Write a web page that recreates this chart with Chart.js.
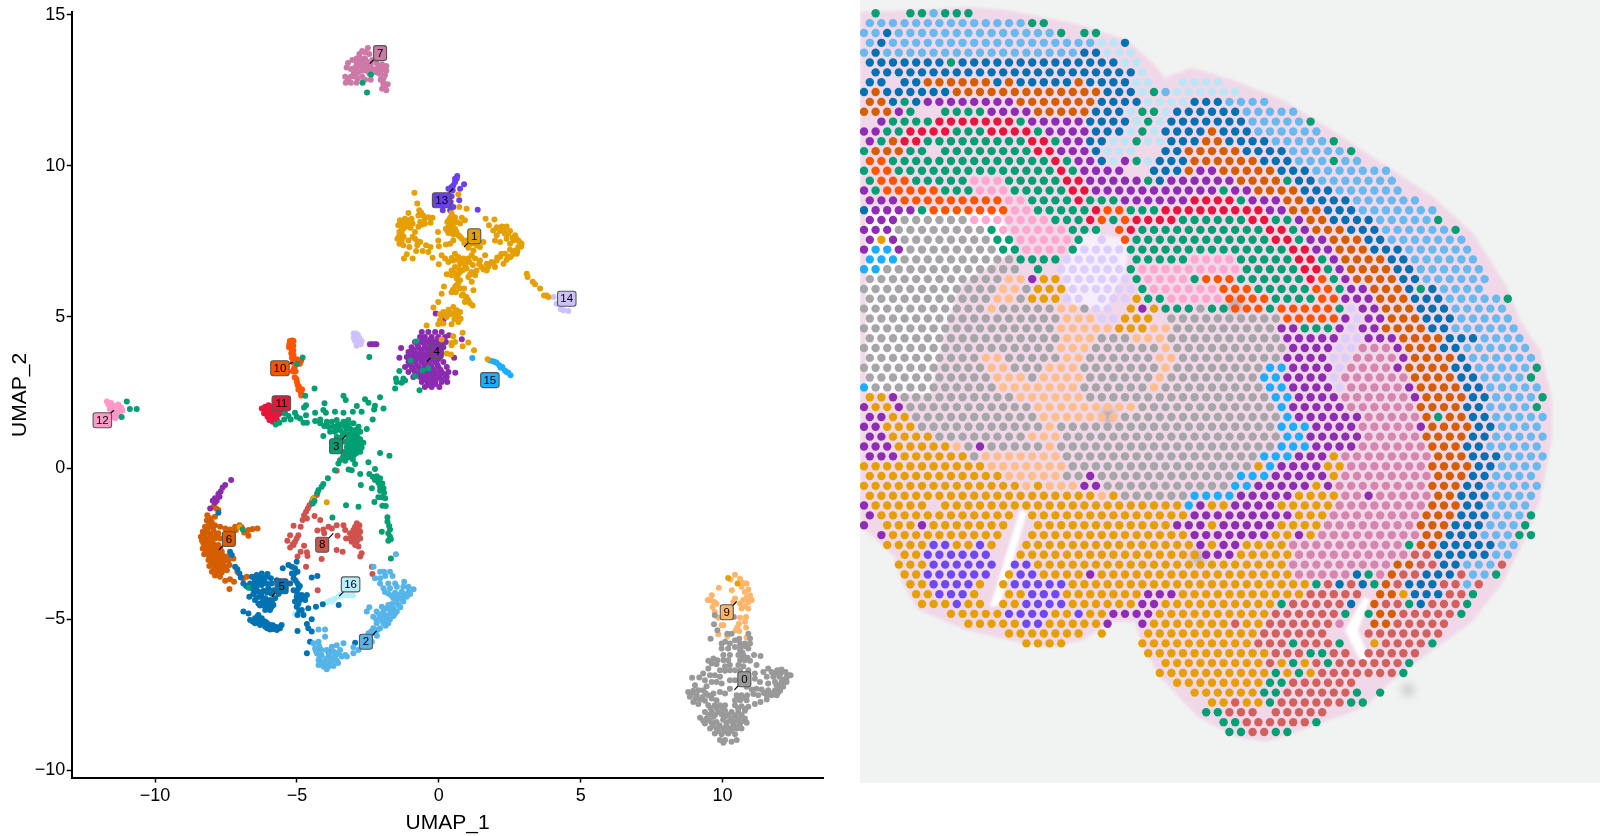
<!DOCTYPE html>
<html>
<head>
<meta charset="utf-8">
<title>UMAP and spatial clusters</title>
<script src="https://cdn.jsdelivr.net/npm/chart.js@4/dist/chart.umd.js"></script>
<style>
body { margin: 0; background: #fff; }
#umapChart { position: absolute; left: 0; top: 0; }
#spatialChart { position: absolute; left: 860px; top: 0; }
</style>
</head>
<body>
<canvas id="umapChart" width="860" height="836"></canvas>
<canvas id="spatialChart" width="740" height="783"></canvas>
<script>
const clusterColors = ['#999999','#E69F00','#56B4E9','#009E73','#8A2BB0','#0072B2','#D55E00','#CC79A7','#D0524E','#FFB56B','#FF5500','#E8153C','#FF9AC8','#6A3FF0','#CFC0FF','#1CADFF','#B4F0FF'];
const spotColors = ['#a6a5a7','#E69F00','#68B9EE','#00A074','#8E2DB4','#0072B2','#D55E00','#D585B0','#D2605C','#FFBE8C','#FF5500','#E8153C','#FFA6D0','#6E48F5','#DCCEFF','#1CADFF','#BCE6F5'];

// UMAP points, flat x,y pairs
const umap0 = [9.73,-4.87,9.7,-5.17,9.82,-5.37,9.58,-5.65,10.4,-4.93,10.17,-5.48,10.32,-5.48,10.59,-5.65,10.91,-5.48,10.97,-5.64,9.97,-5.81,10.09,-5.75,10.26,-5.81,10.44,-5.7,10.62,-5.81,10.79,-5.81,10.97,-5.81,9.97,-5.97,10.2,-5.97,10.44,-5.92,10.62,-6.03,10.91,-5.97,10.56,-6.19,10.73,-6.19,11.11,-6.19,11.34,-6.22,10.03,-6.19,10.26,-6.19,10.03,-6.36,10.2,-6.36,9.5,-6.38,9.68,-6.3,9.82,-6.36,9.62,-6.47,9.79,-6.49,10.62,-6.36,10.79,-6.36,10.97,-6.38,11.2,-6.52,10.09,-6.56,10.26,-6.52,10.56,-6.52,10.73,-6.56,9.5,-6.63,9.91,-6.69,10.09,-6.71,10.26,-6.69,10.44,-6.69,10.62,-6.71,10.91,-6.69,11.61,-6.63,11.73,-6.75,11.44,-6.75,11.14,-6.8,11.93,-6.69,12.08,-6.67,12.22,-6.75,12.4,-6.86,9.32,-6.8,9.56,-6.86,9.73,-6.86,9.91,-6.91,8.93,-6.94,9.18,-6.93,11.56,-6.91,11.79,-6.91,12.0,-6.91,12.26,-6.93,9.38,-7.02,9.62,-7.08,9.79,-7.08,9.97,-7.13,10.26,-7.02,10.44,-7.02,11.14,-6.97,11.32,-7.08,11.85,-7.08,12.08,-7.08,12.26,-7.08,9.03,-7.19,9.44,-7.22,10.26,-7.3,10.85,-7.24,11.03,-7.33,11.61,-7.13,11.97,-7.24,12.14,-7.24,11.2,-7.3,11.38,-7.33,11.61,-7.35,11.85,-7.35,12.03,-7.37,8.79,-7.41,8.97,-7.37,9.15,-7.35,9.32,-7.35,9.91,-7.41,10.09,-7.46,11.09,-7.48,11.26,-7.52,11.56,-7.52,11.73,-7.52,11.91,-7.52,8.85,-7.57,9.09,-7.52,9.5,-7.52,9.68,-7.46,10.5,-7.52,10.67,-7.52,10.87,-7.52,11.56,-7.66,11.34,-7.74,8.97,-7.74,9.21,-7.66,9.38,-7.7,9.62,-7.63,9.79,-7.68,10.44,-7.68,10.62,-7.68,10.85,-7.68,11.14,-7.81,9.15,-7.81,9.5,-7.85,9.73,-7.85,9.91,-7.85,10.09,-7.85,10.44,-7.85,10.67,-7.88,10.91,-7.9,9.38,-8.07,9.62,-8.07,9.85,-8.07,10.09,-8.03,10.32,-8.07,10.56,-8.07,10.79,-8.03,9.21,-8.26,9.44,-8.29,9.68,-8.23,10.09,-8.23,10.32,-8.29,10.56,-8.29,10.79,-8.29,9.38,-8.45,9.62,-8.43,9.79,-8.4,10.14,-8.43,10.38,-8.45,10.62,-8.45,10.85,-8.43,9.56,-8.62,9.79,-8.62,10.03,-8.62,10.26,-8.62,10.5,-8.62,10.67,-8.62,9.73,-8.78,9.97,-8.81,10.2,-8.78,10.44,-8.81,9.91,-9.0,10.09,-9.0,10.32,-9.06,10.5,-9.0,10.03,-9.09,
    9.5,-8.17,9.74,-8.16,9.97,-8.15,10.2,-8.16,10.44,-8.18,10.67,-8.17,9.32,-8.36,9.55,-8.35,10.02,-8.33,10.26,-8.36,10.48,-8.37,10.72,-8.36,9.66,-8.53,9.9,-8.52,10.14,-8.53,10.38,-8.53,10.58,-8.54,9.85,-8.7,10.09,-8.71,10.32,-8.7,9.58,-7.95,9.8,-7.96,10.0,-7.95,10.55,-7.96,10.8,-7.97,9.3,-7.58,9.4,-7.45,9.05,-7.63,8.9,-7.46,10.58,-7.6,10.77,-7.6,11.46,-7.44,11.68,-7.44,11.95,-7.44,11.9,-7.17,12.15,-7.0,11.85,-6.8,12.05,-6.8,12.3,-6.85,10.63,-5.92,10.8,-5.9,10.7,-6.1,10.65,-6.27,10.88,-6.28];
const umap1 = [-.86,9.11,-.76,8.75,-.69,8.53,-.63,8.42,-.72,8.36,-.55,8.36,-.37,8.3,-.22,8.28,-1.07,8.44,-1.19,8.25,-1.37,8.2,-1.25,8.09,-1.07,8.2,-.96,8.25,-1.43,8.03,-1.25,7.92,-1.07,8.03,-.92,8.08,-1.39,7.81,-1.31,7.78,-.66,8.14,-.49,8.08,-.29,8.12,-.72,7.98,-.84,7.81,-1.46,7.59,-1.31,7.53,-1.39,7.42,-1.25,7.37,-1.07,7.53,-.84,7.59,-.66,7.48,-.76,7.37,-.45,7.37,-.29,7.31,-1.04,7.31,-.8,7.18,-.57,7.18,-.37,7.15,-1.13,7.07,-1.23,6.93,-.92,6.93,-.22,6.96,0,6.74,0,7.34,-.03,7.81,.25,7.4,.4,7.42,.51,7.53,-.02,7.53,.45,8.44,.72,8.64,.98,8.58,.69,9.06,.4,8.28,.57,8.3,.81,8.28,.92,8.2,.3,8.14,.45,8.09,.63,8.14,.25,7.92,.4,7.92,.57,7.92,.75,8.09,.34,7.78,.51,7.73,.69,7.7,.81,7.59,.98,7.53,1.16,7.42,1.33,7.37,1.04,7.29,1.22,7.2,1.45,7.31,1.57,7.48,1.65,8.25,1.96,8.22,1.77,8.03,2.04,7.97,2.22,7.99,2.39,7.99,1.92,7.86,2.16,7.84,2.51,7.84,2.69,7.7,2.33,7.75,2.04,7.7,2.39,7.59,2.8,7.53,2.63,7.53,1.98,7.53,2.16,7.48,2.92,7.42,2.51,7.42,2.8,7.31,2.69,7.2,2.51,7.22,2.75,7.09,2.53,6.98,2.33,7.09,2.16,6.98,2.39,6.89,2.04,6.87,1.86,6.82,1.69,6.76,1.51,6.65,1.33,6.54,1.98,6.65,2.28,6.76,1.69,6.54,1.63,7.04,1.45,6.87,1.28,6.93,1.16,7.04,1.04,6.93,.1,7.04,.22,6.93,.34,6.82,.57,7.09,.69,6.98,.87,6.93,.51,6.87,.75,6.76,.92,6.71,.57,6.65,.45,6.54,.98,6.6,1.16,6.49,1.04,6.32,1.28,6.38,.75,6.49,.28,6.41,.45,6.38,.63,6.27,.75,6.21,1.16,6.16,.69,6.12,.57,5.99,.75,5.94,.45,5.82,.6,5.82,1.22,5.88,.89,5.94,.18,6.01,.1,5.77,.81,5.71,.98,5.66,.92,5.49,1.04,5.55,1.19,5.38,-.02,5.49,-.19,5.31,.51,5.33,.34,5.24,.63,5.22,.75,5.16,.16,5.16,.04,5.09,.45,5.09,.63,5,.77,4.94,.28,5,.69,4.83,.04,4.89,-.02,4.76,.16,4.78,.45,4.76,-.43,4.72,.1,4.25,.51,4.36,.45,4.14,.57,4.17,.45,4.06,.84,4.48,.84,4.03,1.04,4.15,1.24,3.9,.28,3.79,.43,3.76,1.72,3.6,3.1,6.43,3.13,6.32,3.31,6.16,3.39,6.08,3.57,5.94,3.71,5.71,3.8,5.71,3.86,5.66,-7.02,-1.96,10.2,-3.64,10.53,-3.82,-4.43,-1.02,-3.95,-1.13,
    -1.35,8.12,-1.15,8.12,-1.32,7.98,-1.17,7.98,-1.0,7.95,-1.4,7.68,-1.24,7.65,-1.33,7.5,-.92,7.65,-.75,7.5,-.62,8.45,-.5,8.25,-.6,8.05,.35,8.2,.5,8.2,.35,8,.5,8,.3,7.85,.45,7.84,.62,7.82,.75,7.65,.9,7.45,1.08,7.4,2.1,7.92,2.3,7.9,2.45,7.75,2.6,7.62,2.72,7.6,2.85,7.47,2.9,7.32,2.77,7.18,2.62,7.08,2.45,7.0,2.2,7.08,2.06,6.97,1.93,6.76,1.75,6.67,1.58,6.57,1.42,6.75,1.2,6.72,1.08,6.82,.95,6.82,.8,6.85,.63,6.9,.45,6.95,.7,6.6,.85,6.55,1.1,6.4,.68,6.4,.55,6.45,.62,6.05,.5,5.9,.85,5.75,.95,5.55,1.1,5.45,.4,5.15,.55,5.13,.68,5.08,.55,4.92,.1,5.05,.22,5.1];
const umap2 = [-1.51,-2.85,-2.07,-3.43,-1.93,-3.43,-1.72,-3.43,-2.3,-3.27,-2.25,-3.65,-2.07,-3.65,-1.89,-3.57,-1.63,-3.57,-2.07,-3.82,-1.78,-3.82,-1.54,-3.82,-1.22,-3.76,-1.95,-3.98,-1.72,-3.98,-1.48,-3.93,-1.25,-3.93,-1.07,-3.93,-.89,-4.01,-1.78,-4.15,-1.54,-4.13,-1.31,-4.09,-1.07,-4.09,-1.6,-4.31,-1.36,-4.28,-1.13,-4.26,-1.01,-4.17,-1.48,-4.46,-1.25,-4.42,-1.78,-4.53,-2.01,-4.59,-1.6,-4.64,-1.36,-4.61,-2.45,-4.61,-2.19,-4.75,-1.95,-4.75,-1.72,-4.81,-1.48,-4.75,-2.54,-4.75,-2.31,-4.92,-2.07,-4.97,-1.83,-4.97,-1.6,-4.9,-1.95,-5.14,-2.19,-5.14,-1.78,-5.14,-2.07,-5.3,-2.31,-5.3,-2.48,-5.47,-2.25,-5.47,-2.36,-5.75,-3.01,-6.13,-2.83,-6.02,-3.01,-5.93,-3.24,-6.24,-4.42,-5.8,-4.24,-5.75,-4.01,-5.58,-4.24,-5.34,-4.01,-5.34,-3.6,-5.86,-3.36,-5.8,-3.77,-5.91,-4.36,-5.97,-4.13,-6.02,-3.95,-6.02,-3.71,-6.08,-3.48,-6.02,-4.3,-6.13,-4.13,-6.19,-3.89,-6.24,-3.66,-6.24,-3.42,-6.24,-4.24,-6.35,-4.07,-6.41,-3.83,-6.41,-3.6,-6.37,-4.24,-6.52,-4.07,-6.57,-3.89,-6.57,-3.71,-6.55,-3.95,-6.66,-3.3,-6.19,
    -1.9,-4.1,-1.68,-4.22,-1.45,-4.2,-1.22,-4.18,-1.5,-4.35,-1.3,-4.35,-1.65,-4.5,-1.42,-4.53,-1.88,-4.66,-1.7,-4.7,-1.55,-4.82,-2.1,-4.85,-1.9,-4.88,-1.72,-5,-2.2,-5.02,-2,-5.05,-1.87,-5.22,-2.15,-5.35,-2.38,-5.4,-2.18,-5.55,-4.33,-6.05,-4.2,-6.27,-3.98,-6.32,-3.75,-6.3,-3.52,-6.15,-4.15,-6.48,-3.95,-6.5,-3.78,-6.47,-3.55,-6.45,-4.22,-5.88,-3.85,-6.14,-3.6,-6.13];
const umap3 = [-2.69,12.75,-2.53,12.43,-2.39,13.02,-11,2.2,-10.89,1.95,-10.65,1.95,-11.18,1.69,-4.8,3.66,-4.99,3.45,-2.45,3.67,-.8,4.19,-.99,3.56,-.57,3.23,-.37,3.29,-.84,3.04,-1.39,3.21,-1.51,2.96,-1.19,2.9,-1.31,2.82,-1.49,2.85,-1.25,2.96,-1.54,2.63,-.68,2.57,-4.38,2.63,-4.71,2.39,-4.68,2.08,-4.75,2,-4.03,2.14,-3.36,2.39,-3.28,2.25,-2.6,2.28,-2.07,2.34,-2.48,2.16,-2.25,2.06,-2.28,1.94,-1.95,1.97,-2.89,2.05,-4.07,1.92,-3.98,1.83,-4.36,1.83,-3.66,1.86,-3.36,1.83,-3.03,1.86,-2.72,1.86,-2.33,1.61,-2.54,1.29,-5.42,1.81,-5.3,1.72,-5.07,1.83,-5.01,1.7,-5.22,1.61,-5.45,1.61,-5.62,1.5,-5.75,1.44,-4.89,1.64,-4.68,1.75,-4.77,1.5,-4.65,1.5,-4.36,1.56,-4.18,1.61,-3.95,1.53,-3.77,1.53,-3.6,1.59,-3.36,1.53,-3.19,1.59,-3.01,1.48,-2.83,1.37,-4.18,1.48,-4.04,1.39,-3.89,1.37,-3.71,1.37,-3.5,1.42,-3.3,1.37,-3.13,1.31,-2.95,1.26,-2.77,1.2,-3.83,1.2,-3.66,1.2,-3.48,1.26,-3.28,1.2,-3.07,1.15,-2.89,1.09,-4.07,1.06,-3.6,1.03,-3.42,1.03,-3.19,.98,-3.01,.92,-2.77,.95,-2.66,.84,-3.3,.87,-3.13,.79,-2.95,.76,-2.72,.68,-3.24,.7,-3.07,.62,-2.89,.59,-2.77,.54,-3.3,.54,-3.13,.48,-2.99,.43,-3.36,.4,-3.18,.35,-3.03,.28,-3.48,.26,-3.3,.24,-3.54,.15,-2.07,.5,-1.74,.41,-2.48,.19,-2.95,.13,-3.18,-.05,-3.07,-.07,-3.66,-.07,-2.77,-.2,-2.25,-.03,-2.45,-.2,-2.33,-.29,-2.19,-.27,-2.07,-.34,-2.25,-.4,-2.13,-.49,-1.99,-.51,-2.07,-.62,-1.95,-.67,-2.36,-.67,-2.07,-.75,-1.93,-.82,-2.75,-.56,-2.01,-.97,-2.13,-.97,-1.89,-1,-2.27,-1.12,-1.99,-1.25,-1.87,-1.26,-1.81,-1.63,-1.81,-1.78,-1.75,-1.92,-1.72,-2.03,-2.01,-2.11,-1.78,-2.16,-1.72,-2.27,-1.78,-2.41,-1.69,-2.36,-2.83,-1.28,-3.27,-1.23,-3.75,-1.64,-3.91,-.34,-4.07,-.53,-4.13,-.62,-4.24,-.73,-4.28,-.82,-4.44,-1.17,-4.38,-1.09,-1.69,-2.99,-6.71,-3.96,-6.91,-2.03,
    -3.55,1.45,-3.4,1.45,-3.2,1.45,-3.62,1.28,-3.38,1.12,-3.2,1.1,-3,1.05,-2.85,.98,-3.2,.87,-3.05,.85,-2.85,.8,-3.15,.65,-2.98,.65,-2.8,.72,-3.2,.55,-3.05,.5,-2.9,.5,-3.25,.45,-3.1,.4,-3.4,.33];
const umap4 = [-2.43,4.1,-2.35,4.1,-2.27,4.1,-2.2,4.1,-.11,5.11,.16,4.89,.36,4.39,.81,4.26,.54,3.65,.58,3.15,-1.39,3.65,-1.33,3.97,-.6,4.5,-.37,4.5,-.13,4.5,.1,4.5,-.66,4.34,-.49,4.34,-.25,4.34,-.02,4.34,.22,4.34,-.84,4.17,-.6,4.17,-.4,4.17,-.19,4.17,.04,4.17,.25,4.17,-.96,4,-.72,4,-.49,4,-.25,4,-.02,4,.16,4,-1.07,3.84,-.84,3.84,-.6,3.84,-.37,3.84,-.15,3.84,.05,3.84,-1.13,3.67,-.9,3.67,-.66,3.67,-.45,3.67,-.22,3.67,.04,3.67,-1.07,3.51,-.84,3.51,-.6,3.51,-.37,3.51,-.13,3.51,.16,3.51,-1.19,3.34,-.96,3.34,-.72,3.34,-.49,3.34,-.25,3.34,-.02,3.34,.28,3.34,-1.07,3.18,-.84,3.18,-.6,3.18,-.37,3.18,-.13,3.18,.1,3.18,.34,3.18,-.9,3.01,-.66,3.01,-.45,3.01,-.22,3.01,.02,3.01,.28,3.01,-.6,2.85,-.4,2.85,-.19,2.85,.1,2.85,.3,2.85,-.49,2.68,-.25,2.68,.02,2.68,-.55,4.25,-.3,4.25,-.05,4.25,.15,4.25,-.75,4.08,-.5,4.08,-.3,4.08,-.1,4.08,.1,4.08,-.9,3.92,-.65,3.92,-.42,3.92,-.18,3.92,.05,3.92,-1,3.75,-.75,3.75,-.52,3.75,-.3,3.75,-.08,3.75,-1,3.6,-.78,3.6,-.55,3.6,-.28,3.6,-.03,3.6,-1.02,3.42,-.78,3.42,-.52,3.42,-.3,3.42,-.05,3.42,-.9,3.26,-.65,3.26,-.42,3.26,-.2,3.26,.05,3.26,-.7,3.1,-.5,3.1,-.28,3.1,-.05,3.1,.2,3.1,-.5,2.93,-.3,2.93,-.1,2.93,.15,2.93,-.35,2.75,-.12,2.78,-7.32,-.4,-7.53,-.56,-7.62,-.64,-7.69,-.78,-7.77,-.86,-7.73,-.95,-7.89,-1,-7.83,-1.08,-7.97,-1.08,-7.89,-1.15,-8.06,-1.34];
const umap5 = [-7.36,-2.77,-7.3,-2.88,-7.18,-3.27,-7.1,-3.35,-7.03,-3.49,-6.98,-3.62,-7.77,-1.48,-6.89,-3.82,-6.79,-3.9,-6.59,-3.6,-6.42,-3.54,-6.24,-3.49,-6.04,-3.51,-5.92,-3.65,-6.12,-3.62,-6.3,-3.68,-6.48,-3.76,-6.65,-3.82,-6.59,-3.98,-6.42,-3.93,-6.24,-3.87,-6.07,-3.82,-5.89,-3.82,-5.71,-3.71,-6.68,-4.26,-6.54,-4.17,-6.36,-4.09,-6.18,-4.06,-6.01,-3.98,-5.83,-4.04,-5.65,-4.17,-6.3,-4.26,-6.12,-4.31,-5.95,-4.37,-5.77,-4.31,-6.48,-4.37,-6.36,-4.48,-6.18,-4.53,-6.01,-4.53,-5.83,-4.53,-6.12,-4.7,-5.95,-4.7,-6.89,-4.75,-6.71,-4.81,-6.36,-4.86,-6.48,-4.97,-6.24,-4.97,-6.65,-5.03,-6.48,-5.14,-6.3,-5.19,-6.12,-5.08,-5.95,-5.19,-5.77,-5.25,-6.12,-5.25,-5.95,-5.34,-5.71,-5.36,-5.54,-5.19,-5.6,-5.3,-5.18,-3.49,-5.07,-3.32,-5.01,-3.1,-5.18,-3.27,-5.3,-3.21,-5.5,-3.32,-4.98,-3.43,-5.12,-3.65,-4.98,-3.82,-5.24,-3.82,-5.12,-4.04,-4.95,-3.98,-4.83,-4.2,-4.65,-4.2,-5.01,-4.26,-5.07,-4.42,-4.89,-4.37,-4.71,-4.37,-5.01,-4.59,-4.83,-4.7,-4.98,-4.86,-4.77,-4.86,-4.48,-3.62,-4.28,-3.57,-4.33,-4.59,-4.6,-4.64,-4.09,-4.51,-3.53,-4.53,-4.48,-5,-4.65,-5.16,-4.6,-5.3,-4.48,-5.41,-4.98,-5.39,-4.54,-5.75,-4.65,-6.13,-4.18,-6,-3.89,-6.08,-2.95,-5.78,
    -6.5,-3.65,-6.3,-3.58,-6.15,-3.75,-6.5,-3.88,-6.32,-3.8,-6.5,-4.08,-6.25,-4.16,-6.05,-4.12,-5.9,-4.15,-6.42,-4.28,-6.2,-4.4,-6.05,-4.42,-5.88,-4.45,-6.3,-4.55,-6.1,-4.6,-5.9,-4.6,-6.4,-4.92,-6.56,-5.08,-6.38,-5.08,-6.22,-5.12,-6.05,-5.14,-5.85,-5.2,-6.05,-5.3,-5.85,-5.33,-5.65,-5.27,-5.1,-3.5,-5.05,-3.72,-4.9,-3.9,-5,-4.12,-4.75,-4.28,-4.95,-4.5,-4.92,-4.72];
const umap6 = [-7.94,-1.28,-7.85,-1.34,-7.77,-1.39,-8.16,-1.56,-8.04,-1.67,-8.18,-1.74,-7.89,-1.61,-7.89,-1.89,-8.24,-1.94,-8.06,-1.94,-7.71,-1.94,-8.32,-2.11,-8.16,-2.11,-7.94,-2.07,-7.77,-2.16,-7.53,-2,-7.36,-2.03,-7.18,-1.94,-7.03,-1.89,-6.95,-1.96,-7.15,-2.05,-6.71,-2.05,-6.56,-2.02,-6.39,-2,-6.86,-2.13,-6.71,-2.24,-8.39,-2.27,-8.24,-2.33,-8.06,-2.27,-7.89,-2.33,-7.71,-2.33,-8.3,-2.49,-8.12,-2.49,-7.94,-2.52,-7.77,-2.55,-8.32,-2.66,-8.18,-2.71,-8,-2.69,-7.83,-2.66,-7.65,-2.77,-8.27,-2.85,-8.12,-2.88,-7.94,-2.86,-7.77,-2.88,-7.59,-2.91,-7.45,-2.93,-8.12,-3.04,-7.94,-3.04,-7.77,-3.07,-7.59,-3.1,-7.42,-3.07,-7.24,-2.99,-8.09,-3.24,-7.89,-3.21,-7.71,-3.27,-7.53,-3.27,-7.38,-3.21,-8,-3.43,-7.83,-3.43,-7.65,-3.46,-7.47,-3.38,-7.89,-3.56,-7.71,-3.6,-7.53,-3.73,-7.36,-3.68,-7.38,-4,-7.22,-3.76,-6.77,-3.6,-6.89,-3.65,-7.1,-3.43,
    -8.1,-1.8,-8,-1.8,-8.15,-2,-8.25,-2.2,-8.05,-2.18,-7.85,-2.22,-8.35,-2.4,-8.15,-2.38,-8,-2.42,-8.22,-2.58,-8.05,-2.6,-7.88,-2.6,-8.22,-2.78,-8.03,-2.78,-7.85,-2.76,-7.7,-2.66,-8.03,-2.95,-7.85,-2.97,-7.68,-3,-7.5,-3.02,-8,-3.13,-7.82,-3.15,-7.65,-3.18,-7.8,-3.32,-7.6,-3.36,-7.92,-3.34];
const umap7 = [-3.2,13.4,-3.05,13.5,-2.9,13.55,-2.8,13.7,-2.7,13.8,-2.6,13.75,-2.5,13.9,-2.45,13.7,-2.35,13.5,-2.2,13.4,-2.1,13.3,-2,13.35,-1.85,13.3,-1.85,13.15,-1.9,13,-2.05,13.05,-2.2,13.1,-2.35,13.2,-2.5,13.3,-2.65,13.4,-2.8,13.3,-2.95,13.25,-3.1,13.2,-3.25,13.25,-3,13.05,-2.85,13.1,-2.7,13.15,-2.6,13.55,-2.75,13.55,-2.9,13.4,-2.55,13.15,-2.45,13.05,-2.7,12.95,-2.85,12.9,-2.95,12.95,-3.1,12.95,-3.2,12.85,-3.28,12.75,-3.3,12.95,-3.1,12.75,-2.9,12.75,-2.6,12.85,-2.4,12.85,-2.2,13.2,-2.1,13.05,-1.95,12.9,-1.95,12.75,-1.9,12.6,-2,12.55,-1.85,12.5,-1.95,12.7,-1.8,12.7,-2.05,12.85,
    -2.85,13.45,-2.7,13.48,-2.55,13.45,-2.4,13.35,-2.7,13.3,-2.55,13.3,-2.9,13.15,-2.45,13.2,-2.05,13.2,-1.95,13.2];
const umap8 = [-4.3,-.89,-4.42,-1,-4.48,-1.12,-4.56,-1.23,-4.62,-1.34,-4.68,-1.45,-4.75,-1.56,-4.8,-1.72,-4.65,-1.67,-3.6,-.09,-4.38,-1.59,-4.18,-1.72,-5.12,-1.91,-4.87,-1.94,-4.95,-2.22,-5.01,-2.33,-5.07,-2.44,-5.15,-2.52,-5.24,-2.22,-5.34,-2.41,-5.24,-2.63,-5.12,-2.55,-4.75,-2.57,-4.87,-2.77,-4.65,-2.79,-4.63,-2.91,-4.98,-2.93,-4.68,-3.27,-4.13,-3.01,-4.28,-2.07,-4.07,-2.03,-3.89,-1.94,-3.77,-2,-4.04,-2.16,-3.6,-1.89,-3.36,-1.89,-3.57,-2.24,-3.3,-2.05,-3.6,-2.71,-3.39,-2.77,-2.72,-2.82,-2.77,-2.93,-2.34,-3.51,-4.27,-4.04,-2.36,-3.27,-2.89,-1.83,-2.8,-1.89,-2.95,-1.94,-2.83,-2,-3.01,-2.05,-2.89,-2.11,-2.77,-2.11,-3.13,-2.16,-2.99,-2.22,-2.83,-2.22,-3.27,-2.33,-3.13,-2.33,-2.95,-2.33,-2.77,-2.33,-3.07,-2.44,-2.89,-2.44,-2.95,-2.55,-2.83,-2.6];
const umap9 = [10.44,-3.53,10.29,-3.69,10.62,-3.66,10.73,-3.8,10.85,-3.82,10.67,-3.93,10.91,-4.02,10.79,-4.1,10.97,-4.21,10.85,-4.29,11.03,-4.37,10.91,-4.43,10.73,-4.37,10.62,-4.48,10.79,-4.57,10.91,-4.65,10.67,-4.65,10.44,-4.32,10.38,-4.43,9.87,-3.96,10.33,-4.04,9.62,-4.21,9.48,-4.37,9.58,-4.37,9.7,-4.43,9.65,-4.6,9.79,-4.49,9.73,-4.76,9.85,-4.95,9.97,-5.2,10.03,-5.2,10.62,-4.95,10.83,-4.93,10.79,-5.09,10.58,-5.15,10.52,-5.28,10.83,-5.28,10.47,-5.37,10.59,-5.39,10.85,-5.61,9.85,-5.5,10.17,-5.57];
const umap10 = [-5.25,4.2,-5.17,4.22,-5.12,4.2,-5.27,4.1,-5.2,4.1,-5.13,4.05,-5.28,4,-5.2,3.95,-5.13,3.9,-5.2,3.8,-5.12,3.75,-5.18,3.65,-5.1,3.6,-5,3.6,-4.95,3.5,-5.15,3.5,-5.05,3.4,-4.9,3.45,-4.85,3.55,-5.1,3.3,-5.15,3.2,-5.05,3.2,-5.08,3,-5.02,2.95,-5,2.85,-4.98,2.75,-4.93,2.7,-4.95,2.6,-4.88,2.55,-4.85,2.48,-4.82,2.6,-4.85,2.4];
const umap11 = [-6.24,1.97,-6.12,2.03,-6,2.08,-5.83,2.05,-5.71,1.92,-5.59,1.83,-6.09,1.86,-5.95,1.92,-5.83,1.86,-5.65,1.78,-6.16,1.81,-6.04,1.7,-5.92,1.75,-5.77,1.7,-5.97,1.59,-5.85,1.53,-6.04,1.83,-5.89,1.64,-5.54,1.83,-5.71,1.61];
const umap12 = [-11.7,2.2,-11.65,2.1,-11.55,2.05,-11.5,1.95,-11.4,2.05,-11.3,2.1,-11.2,2,-11.15,1.9,-11.35,1.9,-11.45,1.8,-11.3,1.75,-11.25,1.85,-11.55,2.15,-11.6,1.95,-11.4,1.65,-11.5,1.7];
const umap13 = [.65,9.66,.63,9.57,.57,9.46,.51,9.35,.45,9.3,.4,9.24,.57,9.57,.34,9.24,.49,9.19,.89,9.39,.75,9.24,.72,8.86,.14,8.53,.4,8.53,1.37,8.55,.45,8.99,.42,8.8,.51,8.64];
const umap14 = [-3,4.45,-2.92,4.45,-2.85,4.4,-3,4.3,-2.9,4.3,-2.8,4.3,-2.72,4.2,-2.95,4.2,-2.85,4.15,-2.75,4.1,-2.9,4.05,4.04,5.66,4.15,5.44,4.39,5.22,4.57,5.2,4.3,5.25];
const umap15 = [1.8,3.56,1.92,3.53,2.04,3.48,2.13,3.4,2.24,3.34,2.33,3.23,2.45,3.15,2.53,3.07,1.98,3.51,2.18,3.32,1.18,3.64,2.39,3.18];
const umap16 = [-5.07,-4.83,-3.95,-4.44,-3.83,-4.39,-3.69,-4.33,-3.54,-4.26,-3.36,-4.22,-3.19,-4.22,-3.03,-4.22,-3.77,-4.42,-3.48,-4.2];
const umapClusters = [umap0,umap1,umap2,umap3,umap4,umap5,umap6,umap7,umap8,umap9,umap10,umap11,umap12,umap13,umap14,umap15,umap16];

// repel labels: box centre and the point the segment goes to
const labelNames = ['0','1','2','3','4','5','6','7','8','9','10','11','12','13','14','15','16'];
const labelX = [10.77,1.25,-2.57,-3.62,-.07,-5.54,-7.4,-2.07,-4.11,10.15,-5.6,-5.55,-11.86,.1,4.51,1.8,-3.11];
const labelY = [-6.99,7.67,-5.75,.72,3.87,-3.91,-2.35,13.73,-2.54,-4.77,3.3,2.14,1.58,8.86,5.6,2.91,-3.85];
const tipX = [10.42,.89,-2.19,-3.27,-.43,-5.89,-7.75,-2.43,-3.72,10.5,-5.14,-5.67,-11.45,.51,4.2,1.8,-3.51];
const tipY = [-7.34,7.31,-5.39,1.09,3.51,-4.26,-2.71,13.38,-2.16,-4.41,3.5,1.98,1.91,9.25,5.62,3.17,-4.24];

const xTicks = [-10,-5,0,5,10];
const yTicks = [-10,-5,0,5,10,15];

// spot grid, one row per line: cluster, run length, cluster, run length...
const _ = -1;
const spotRows = [
[_,1,3,1,_,2,3,2,2,1,3,3],
[2,14,3,2],
[2,2,5,1,2,14,3,1,_,1,3,2],
[2,1,5,1,2,18,16,2,5,1],
[2,1,5,1,2,17,5,2,16,3],
[5,7,3,1,5,14,16,2],
[_,1,5,23,16,1],
[5,2,_,1,5,2,6,6,5,1,6,1,5,5,6,1,5,4,16,2,_,2,16,4],
[5,1,6,1,5,6,6,13,5,3,16,1,3,1,2,1,16,6],
[6,2,5,1,3,1,5,1,4,8,6,7,5,4,16,4,5,3,2,4],
[6,3,4,1,3,1,_,2,3,4,4,4,6,5,5,3,16,1,3,2,16,1,5,6,2,5],
[_,1,4,1,3,4,11,7,3,1,4,5,5,4,16,1,3,1,16,1,5,7,2,5,3,1],
[4,2,3,2,11,4,3,3,11,4,3,1,4,4,5,3,16,1,3,1,16,1,5,4,6,1,5,3,2,6],
[4,1,3,1,6,1,11,2,3,9,11,2,3,1,4,2,5,2,16,2,3,1,16,2,5,3,6,2,5,4,2,5,3,1],
[3,1,6,3,3,2,_,1,3,8,11,2,4,3,5,1,16,3,_,2,5,2,6,5,5,4,2,5,3,1],
[10,2,3,14,11,1,3,1,4,2,5,1,16,1,4,1,3,1,16,1,5,3,6,6,5,3,2,3,3,1,2,2],
[3,1,10,2,3,14,11,1,3,1,4,4,_,2,5,3,6,1,4,2,6,5,5,3,2,7],
[3,1,10,3,3,5,12,3,3,5,11,2,4,5,3,1,5,1,4,6,6,4,3,1,5,2,2,7],
[4,1,3,1,10,5,3,3,12,3,3,5,11,2,4,11,3,1,4,2,6,4,5,3,2,6],
[4,3,10,9,12,2,3,4,11,1,3,3,4,6,11,4,3,1,4,3,6,2,5,4,2,6],
[5,1,4,4,3,1,10,7,12,2,3,5,11,1,10,2,3,3,11,9,4,2,6,3,5,3,2,7],
[4,3,0,6,12,7,3,3,11,1,10,1,3,1,10,1,11,4,3,6,11,2,3,2,4,1,6,2,5,4,2,5,3,1],
[4,3,0,8,3,1,12,6,3,3,_,1,10,1,11,1,3,11,11,2,3,1,4,1,6,3,5,3,2,6,3,1],
[4,1,1,1,4,1,0,8,3,2,12,5,3,1,_,1,14,1,_,1,10,1,3,12,11,2,3,1,4,2,6,3,5,2,2,7],
[4,1,15,2,4,1,0,8,3,2,12,4,3,1,14,4,3,14,11,2,4,2,6,3,5,3,2,6],
[15,3,0,10,3,4,14,5,_,1,3,5,12,4,3,5,11,2,3,1,4,1,6,4,5,2,2,6],
[15,2,0,12,_,1,3,1,_,1,14,6,3,1,12,9,3,5,11,2,3,1,4,1,6,4,5,2,2,6],
[0,12,9,2,4,1,1,2,14,6,3,1,12,4,3,1,10,3,3,6,11,1,10,1,3,1,4,1,6,4,5,2,2,6],
[0,12,9,2,0,1,1,3,14,6,3,1,12,6,10,3,3,5,10,2,3,1,4,2,6,3,5,1,3,1,5,1,2,4],
[0,11,9,2,0,1,1,3,14,2,_,1,14,3,1,1,3,2,12,5,10,4,3,4,10,2,4,3,6,3,5,3,2,5,3,1],
[0,11,9,1,0,5,9,2,0,1,14,2,_,1,1,1,4,1,1,1,3,3,0,1,3,2,10,3,3,1,10,5,3,1,14,1,4,2,6,3,5,3,2,5],
[0,17,9,3,14,2,1,3,_,1,0,10,10,5,4,1,14,1,4,2,6,3,5,3,2,5],
[0,17,9,5,1,3,9,2,0,9,4,2,3,3,4,1,14,1,4,2,6,4,5,2,2,6],
[0,17,9,3,0,3,9,3,0,10,4,5,14,2,4,3,6,4,5,3,2,4],
[0,17,9,3,0,6,9,1,0,10,4,4,14,2,7,3,4,1,6,3,5,2,2,6],
[0,10,9,2,0,5,9,2,0,6,9,2,0,9,4,4,14,2,7,4,4,1,6,4,5,1,2,6],
[0,11,9,2,0,3,9,3,0,7,9,1,0,8,15,2,4,4,14,1,7,4,4,1,6,4,5,2,2,5,3,1],
[0,11,9,3,0,1,9,4,0,6,9,1,0,8,15,2,4,4,14,1,7,6,6,4,5,2,2,4,3,1],
[15,1,0,11,9,7,0,6,9,1,0,9,15,2,4,4,14,1,7,5,4,1,6,4,5,2,2,5],
[1,2,4,1,0,10,9,6,0,16,15,2,4,4,7,6,4,1,6,4,5,2,2,4,3,1],
[4,1,1,2,4,1,0,11,9,9,0,12,15,1,4,5,7,6,6,4,5,2,2,4,3,1],
[4,2,1,2,0,11,9,7,0,14,15,1,4,6,7,5,6,1,3,1,6,2,5,2,2,5],
[4,2,1,3,0,11,9,1,0,19,15,3,4,4,7,5,4,1,6,4,5,2,2,4],
[4,2,1,4,0,8,9,3,0,19,15,2,4,5,7,5,6,4,5,2,2,5],
[4,3,1,5,9,1,0,1,4,1,0,5,9,1,0,19,15,3,4,4,7,6,6,3,5,2,2,5],
[4,3,1,6,0,1,9,7,0,17,15,3,4,3,1,1,7,8,6,3,5,3,2,4],
[1,11,9,7,0,16,1,1,15,1,4,4,1,2,7,7,6,4,5,2,2,4],
[1,12,9,5,0,2,4,1,0,12,15,3,4,5,1,1,7,8,6,3,5,2,2,4],
[1,14,9,1,1,1,9,3,4,2,0,11,15,2,4,5,1,1,4,1,7,8,6,3,5,2,2,5],
[1,20,9,1,1,1,0,6,15,4,4,5,1,4,7,2,4,1,7,5,6,2,5,3,2,4],
[4,1,1,5,_,1,1,21,15,1,4,1,1,2,4,4,1,5,7,8,6,3,5,2,2,4],
[4,1,1,12,_,1,1,14,4,9,1,3,7,8,6,3,5,3,2,3,3,1],
[4,1,_,1,1,3,4,1,1,7,_,2,1,12,4,3,1,1,4,5,1,4,7,8,6,3,5,3,2,3,3,1],
[_,1,4,1,1,10,_,2,1,14,4,7,1,2,4,1,1,1,7,9,6,2,5,3,2,3,3,2],
[_,2,1,4,13,2,1,2,13,1,1,1,_,2,1,15,4,1,1,1,4,2,1,4,7,10,3,1,6,2,5,5,2,2],
[_,3,1,2,13,6,_,2,1,16,4,3,1,5,7,10,8,2,5,5,2,2],
[_,3,1,3,13,6,_,1,13,2,1,22,7,9,6,2,8,2,5,2,2,3,8,1],
[_,3,1,2,13,6,_,1,1,1,13,2,1,4,4,1,1,17,7,5,5,1,3,1,7,1,6,1,8,2,5,3,8,1,2,2,3,1],
[_,4,1,2,13,4,1,1,_,1,1,1,13,5,1,21,3,1,8,1,5,1,8,1,5,1,3,1,6,1,8,1,5,3,8,2,2,1,8,1],
[_,4,1,2,13,3,1,1,_,2,1,2,13,3,1,7,4,3,1,11,8,5,_,1,6,2,1,1,5,3,8,2,3,1],
[_,5,1,3,13,1,1,2,_,1,1,2,13,4,1,6,4,2,1,10,3,1,8,5,5,1,_,1,6,1,8,2,3,1,5,1,8,3,3,1],
[_,7,1,5,13,4,1,2,13,1,1,2,4,4,1,10,8,6,3,1,_,1,3,1,6,2,8,5,3,1],
[_,9,1,5,13,2,1,5,4,1,_,2,4,1,1,7,8,1,1,2,8,6,7,1,_,2,6,2,8,5],
[_,12,1,7,_,1,1,1,_,3,1,10,8,6,_,3,8,7],
[_,14,1,4,_,6,1,10,8,3,3,1,8,3,3,1,_,2,1,1,8,4,3,1],
[_,24,1,11,8,3,3,2,8,2,_,1,8,5],
[_,26,1,9,8,1,1,1,3,1,1,1,8,1,3,1,8,6,3,1],
[_,25,1,10,3,1,1,1,3,1,1,1,8,7,3,1],
[_,27,1,8,3,2,8,6],
[_,28,1,6,3,2,8,6,3,1,_,1,3,1],
[_,30,1,2,8,1,1,2,3,1,8,6,3,2],
[_,29,3,2,8,3,_,1,8,5],
[_,31,3,2,8,6,3,1],
[_,31,3,2,8,2,3,2]
];

// tissue section outline and patches, in page pixels of the photo
const tissueOutline = [860,12,920,10,968,7,1007,10,1073,23,1127,40,1153,63,1165,78,1190,68,1200,70,1233,80,1283,100,1327,127,1373,157,1433,197,1473,233,1507,287,1520,320,1540,350,1552,398,1552,439,1540,500,1524,541,1503,582,1472,622,1429,653,1387,685,1366,707,1324,722,1295,733,1265,742,1236,737,1198,717,1160,677,1141,643,1135,622,1109,622,1084,640,1050,648,1008,640,966,630,918,610,901,580,895,557,863,528,860,515];
const whitePatch = [866,208,1000,212,1015,250,960,285,945,330,930,395,866,392];
const lavenderPatch = [1085,232,1130,240,1125,272,1105,310,1072,304,1060,270];
const slitLeft = [1020,510,1027,512,1000,605,990,607];
const slitRight = [1364,597,1370,600,1358,630,1370,662,1362,664,1345,630];
const smudgeX = [1108,1235,1198,1408];
const smudgeY = [415,305,557,690];
const smudgeAlpha = [0.55,0.6,0.5,0.3];

function pairsToPoints(values) {
    const points = [];
    for (let i = 0; i < values.length; i += 2) {
        points.push({ x: values[i], y: values[i + 1] });
    }
    return points;
}

function minusTick(value) {
    return value < 0 ? '\u2212' + Math.abs(value) : String(value);
}

const labelPlugin = {
    id: 'repelLabels',
    afterDatasetsDraw(chart) {
        const ctx = chart.ctx;
        const xs = chart.scales.x, ys = chart.scales.y;
        ctx.save();
        ctx.font = '11.5px "Liberation Sans"';
        ctx.textAlign = 'center';
        ctx.textBaseline = 'middle';
        labelNames.forEach((name, i) => {
            const cx = xs.getPixelForValue(labelX[i]), cy = ys.getPixelForValue(labelY[i]);
            ctx.strokeStyle = '#000';
            ctx.lineWidth = 1.2;
            ctx.beginPath();
            ctx.moveTo(cx, cy);
            ctx.lineTo(xs.getPixelForValue(tipX[i]), ys.getPixelForValue(tipY[i]));
            ctx.stroke();
            const w = name.length > 1 ? 18.5 : 13, h = 15;
            ctx.beginPath();
            ctx.roundRect(cx - w / 2, cy - h / 2, w, h, 2.5);
            ctx.fillStyle = clusterColors[i];
            ctx.fill();
            ctx.strokeStyle = '#555';
            ctx.lineWidth = 1.1;
            ctx.stroke();
            ctx.fillStyle = '#000';
            ctx.fillText(name, cx, cy + 0.5);
        });
        ctx.restore();
    }
};

function drawUmapChart() {
    const datasets = umapClusters.map((values, i) => ({
        label: labelNames[i],
        data: pairsToPoints(values),
        backgroundColor: clusterColors[i],
        pointRadius: 3,
        pointBorderWidth: 0,
        order: i === 3 ? -1 : i
    }));
    const axisFont = { family: '"Liberation Sans"', size: 18 };
    const titleFont = { family: '"Liberation Sans"', size: 21 };
    const configChart = {
        type: 'scatter',
        data: { datasets: datasets },
        plugins: [labelPlugin],
        options: {
            responsive: false,
            animation: false,
            layout: { autoPadding: false, padding: { top: 11.7, right: 36.5, left: 0, bottom: 0 } },
            plugins: { legend: { display: false }, tooltip: { enabled: false } },
            scales: {
                x: {
                    type: 'linear', min: -12.94, max: 13.56,
                    afterBuildTicks: axis => { axis.ticks = xTicks.map(v => ({ value: v })); },
                    afterFit: axis => { axis.height = 58.5; },
                    grid: { drawOnChartArea: false, color: '#000', tickLength: 5, tickWidth: 1.5 },
                    border: { color: '#000', width: 2 },
                    ticks: { color: '#000', font: axisFont, padding: 3, maxRotation: 0, callback: minusTick },
                    title: { display: true, text: 'UMAP_1', color: '#000', font: titleFont, padding: { top: 0, bottom: 0 } }
                },
                y: {
                    type: 'linear', min: -10.24, max: 15.08,
                    afterBuildTicks: axis => { axis.ticks = yTicks.map(v => ({ value: v })); },
                    afterFit: axis => { axis.width = 71.7; },
                    grid: { drawOnChartArea: false, color: '#000', tickLength: 5, tickWidth: 1.5 },
                    border: { color: '#000', width: 2 },
                    ticks: { color: '#000', font: axisFont, padding: 1.5, callback: minusTick },
                    title: { display: true, text: 'UMAP_2', color: '#000', font: titleFont, padding: { top: 8, bottom: 0 } }
                }
            }
        }
    };
    return new Chart(document.getElementById('umapChart'), configChart);
}

function fillPolygon(chart, values, color) {
    const ctx = chart.ctx, xs = chart.scales.photoX, ys = chart.scales.photoY;
    ctx.beginPath();
    for (let i = 0; i < values.length; i += 2) {
        ctx.lineTo(xs.getPixelForValue(values[i]), ys.getPixelForValue(values[i + 1]));
    }
    ctx.closePath();
    ctx.fillStyle = color;
    ctx.fill();
}

const tissuePlugin = {
    id: 'tissue',
    beforeDatasetsDraw(chart) {
        const ctx = chart.ctx;
        ctx.save();
        ctx.fillStyle = '#f1f3f2';
        ctx.fillRect(0, 0, chart.width, chart.height);
        ctx.filter = 'blur(1.5px)';
        fillPolygon(chart, tissueOutline, '#f0d8e8');
        fillPolygon(chart, whitePatch, '#fdfbfd');
        fillPolygon(chart, lavenderPatch, '#f6eef8');
        fillPolygon(chart, slitLeft, '#ffffff');
        fillPolygon(chart, slitRight, '#ffffff');
        ctx.filter = 'blur(4px)';
        smudgeX.forEach((x, i) => {
            ctx.beginPath();
            ctx.arc(chart.scales.photoX.getPixelForValue(x), chart.scales.photoY.getPixelForValue(smudgeY[i]), 6, 0, Math.PI * 2);
            ctx.fillStyle = 'rgba(90,90,90,' + smudgeAlpha[i] + ')';
            ctx.fill();
        });
        ctx.restore();
    }
};

function drawSpatialChart() {
    const byCluster = spotColors.map(() => []);
    spotRows.forEach((runs, row) => {
        let col = 0;
        for (let i = 0; i < runs.length; i += 2) {
            for (let n = 0; n < runs[i + 1]; n++) {
                if (runs[i] >= 0) {
                    byCluster[runs[i]].push({ x: col + (row % 2 ? 0.5 : 0), y: row });
                }
                col++;
            }
        }
    });
    const configChart = {
        type: 'scatter',
        data: {
            datasets: byCluster.map((points, i) => ({
                label: labelNames[i],
                data: points,
                backgroundColor: spotColors[i],
                pointRadius: 4.2,
                pointBorderWidth: 0
            }))
        },
        plugins: [tissuePlugin],
        options: {
            responsive: false,
            animation: false,
            layout: { autoPadding: false, padding: 0 },
            plugins: { legend: { display: false }, tooltip: { enabled: false } },
            scales: {
                x: { type: 'linear', display: false, min: -0.345, max: 63.45 },
                y: { type: 'linear', display: false, reverse: true, min: -1.35, max: 78.18 },
                photoX: { type: 'linear', axis: 'x', display: false, min: 860, max: 1600 },
                photoY: { type: 'linear', axis: 'y', display: false, reverse: true, min: 0, max: 783 }
            }
        }
    };
    return new Chart(document.getElementById('spatialChart'), configChart);
}

drawUmapChart();
drawSpatialChart();
</script>
</body>
</html>
